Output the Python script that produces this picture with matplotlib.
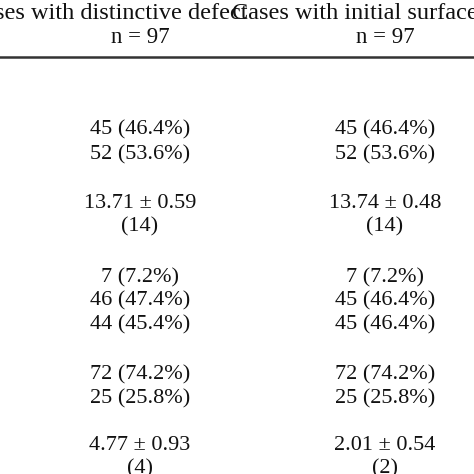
import matplotlib
matplotlib.use("Agg")
import matplotlib.pyplot as plt

headers = ["Cases with distinctive defect", "Cases with initial surface texture"]
n_label = ["n = 97", "n = 97"]
col1 = ["45 (46.4%)", "52 (53.6%)", "13.71 \u00b1 0.59", "(14)", "7 (7.2%)", "46 (47.4%)", "44 (45.4%)",
        "72 (74.2%)", "25 (25.8%)", "4.77 \u00b1 0.93", "(4)"]
col2 = ["45 (46.4%)", "52 (53.6%)", "13.74 \u00b1 0.48", "(14)", "7 (7.2%)", "45 (46.4%)", "45 (46.4%)",
        "72 (74.2%)", "25 (25.8%)", "2.01 \u00b1 0.54", "(2)"]
row_y = [130, 155, 204, 227, 278, 301, 325, 375, 399, 446, 469]

fig = plt.figure(figsize=(4.74, 4.74), dpi=100)
fig.patch.set_facecolor("white")
ax = fig.add_axes([0, 0, 1, 1])
ax.set_xlim(0, 474)
ax.set_ylim(474, 0)
ax.axis("off")
font = dict(family="Liberation Serif", color="#111111", ha="center", va="center")
ax.text(108, 13, headers[0], fontsize=17.5, **font)
ax.text(392, 13, headers[1], fontsize=17.5, **font)
ax.text(140, 37, n_label[0], fontsize=16.5, **font)
ax.text(385, 37, n_label[1], fontsize=16.5, **font)
ax.plot([0, 474], [57, 57], color="#333333", lw=1.8)
for x, col in zip([140, 385], [col1, col2]):
    for y, t in zip(row_y, col):
        ax.text(x, y, t, fontsize=16, **font)
fig.savefig("out.png", dpi=100)
